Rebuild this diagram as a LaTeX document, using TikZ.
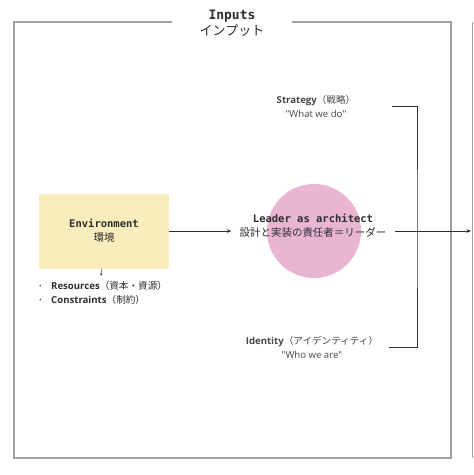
\documentclass[tikz,border=0pt]{standalone}
\usepackage{fontspec}
\setmainfont{Open Sans}
\setmonofont{DejaVu Sans Mono}
\newfontfamily\jp{Noto Sans CJK JP}
\usetikzlibrary{arrows.meta,positioning}
\definecolor{frame}{RGB}{160,160,160}
\definecolor{ink}{RGB}{45,45,45}
\definecolor{sand}{RGB}{250,237,188}
\definecolor{rose}{RGB}{232,181,210}
\definecolor{muted}{RGB}{70,70,70}
\newcommand{\dotitem}{\makebox[12pt][l]{\raisebox{1pt}{\scalebox{0.7}{\textbullet}}}}
\tikzset{
  >={Stealth[length=1.6mm,width=1.3mm]},
  flow/.style={->,draw=ink,semithick},
  bracket/.style={draw=ink,semithick},
  head/.style={font=\fontsize{10.5}{14}\selectfont,align=center,text=ink},
  tag/.style={font=\fontsize{9.6}{15}\selectfont,align=center,text=muted},
}
\begin{document}
\begin{tikzpicture}[x=1pt,y=-1pt]
  \useasboundingbox (0,0) rectangle (474,475);
  % frames
  \draw[frame,line width=1.2pt] (14,22) rectangle (451,458);
  \draw[frame,line width=1.2pt] (472.5,22) -- (472.5,458);
  \node[fill=white,minimum width=120pt,inner sep=1pt,align=center,text=ink] (title) at (232,23)
    {\fontsize{13}{16}\selectfont\ttfamily\bfseries Inputs\\[1pt]
     \fontsize{13}{16}\selectfont\jp インプット};
  % environment
  \node[fill=sand,minimum width=130pt,minimum height=75pt,head] (env) at (104,231)
    {\ttfamily\bfseries Environment\\ \jp 環境};
  \node[tag,align=left,anchor=north west,inner sep=2pt,text=ink] (res) at (37,279)
    {\dotitem\textbf{Resources}{\jp（資本・資源）}\\[-1pt]
     \dotitem\textbf{Constraints}{\jp（制約）}};
  \draw[->,ink,thin,>={Stealth[length=0.8mm,width=0.8mm]}] (env.south) ++(-2,0) -- ++(-1,7);
  % leader
  \node[circle,fill=rose,minimum size=94pt] (core) at (314,231) {};
  \node[head,inner sep=8pt] (lead) at (313,226)
    {\ttfamily\bfseries Leader as architect\\ \jp 設計と実装の責任者＝リーダー};
  \draw[flow] (env.east) -- (env.east -| lead.west);
  % strategy / identity
  \node[tag] (strat) at (316,106) {\textbf{Strategy}{\jp（戦略）}\\[-1pt] \textquotedbl What we do\textquotedbl};
  \node[tag] (ident) at (312,347) {\textbf{Identity}{\jp（アイデンティティ）}\\[-1pt] \textquotedbl Who we are\textquotedbl};
  \coordinate (sa) at (392,106);
  \coordinate (ia) at (389,347);
  \coordinate (bar) at (417,231);
  \coordinate (next) at (471,231);
  \draw[bracket] (sa) -| (bar) |- (ia);
  \draw[flow] (lead.east |- bar) -- (next);
\end{tikzpicture}
\end{document}
